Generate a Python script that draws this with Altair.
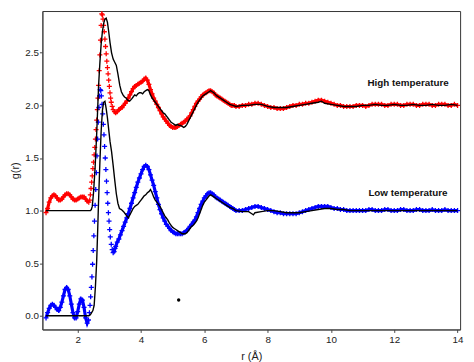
import altair as alt
import pandas as pd

# ---------------- data ----------------
# High temperature simulation (red +), shifted up by 1
high_sim_r = [1.00, 1.05, 1.10, 1.15, 1.20, 1.25, 1.30, 1.35, 1.40, 1.45, 1.50, 1.55, 1.60, 1.65,
              1.70, 1.75, 1.80, 1.85, 1.90, 1.95, 2.00, 2.05, 2.10, 2.15, 2.20, 2.25, 2.30, 2.35,
              2.38, 2.40, 2.42, 2.44, 2.46, 2.48, 2.50, 2.52, 2.54, 2.56, 2.58, 2.60, 2.62, 2.64,
              2.66, 2.68, 2.70, 2.72, 2.74, 2.76,
              2.78, 2.80, 2.82, 2.84, 2.86, 2.88, 2.90, 2.92, 2.94, 2.96, 2.98, 3.00, 3.02, 3.04,
              3.06, 3.09, 3.12, 3.16, 3.20, 3.25,
              3.30, 3.35, 3.40, 3.45, 3.50, 3.55, 3.60, 3.65, 3.70, 3.75, 3.80, 3.85, 3.90, 3.95,
              4.00, 4.05, 4.10, 4.15, 4.20, 4.25, 4.30, 4.35, 4.40, 4.45, 4.50, 4.55, 4.60, 4.65,
              4.70, 4.75, 4.80, 4.85, 4.90, 4.95, 5.00, 5.05, 5.10, 5.15, 5.20, 5.25, 5.30, 5.35,
              5.40, 5.45, 5.50, 5.55, 5.60, 5.65, 5.70, 5.75, 5.80, 5.85, 5.90, 5.95, 6.00, 6.05,
              6.10, 6.15, 6.20, 6.25, 6.30, 6.35, 6.40, 6.45, 6.50, 6.55, 6.60, 6.65, 6.70, 6.75,
              6.80, 6.85, 6.90, 6.95, 7.00,
              7.1, 7.2, 7.3, 7.4, 7.5, 7.6, 7.7, 7.8, 7.9, 8.0, 8.1, 8.2, 8.3, 8.4, 8.5, 8.6, 8.7,
              8.8, 8.9, 9.0, 9.1, 9.2, 9.3, 9.4, 9.5, 9.6, 9.7, 9.8, 9.9, 10.0, 10.1, 10.2, 10.3,
              10.4, 10.5, 10.6, 10.7, 10.8, 10.9, 11.0, 11.1, 11.2, 11.3, 11.4, 11.5, 11.6, 11.7,
              11.8, 11.9, 12.0, 12.1, 12.2, 12.3, 12.4, 12.5, 12.6, 12.7, 12.8, 12.9, 13.0, 13.1,
              13.2, 13.3, 13.4, 13.5, 13.6, 13.7, 13.8, 13.9, 14.0]
high_sim_g = [0.98, 1.02, 1.08, 1.12, 1.14, 1.15, 1.14, 1.12, 1.10, 1.10, 1.11, 1.13, 1.15, 1.16,
              1.16, 1.15, 1.13, 1.11, 1.10, 1.10, 1.11, 1.12, 1.13, 1.13, 1.13, 1.11, 1.09, 1.08,
              1.10, 1.15, 1.21, 1.27, 1.33, 1.40, 1.46, 1.53, 1.60, 1.68, 1.77, 1.86, 1.96, 2.07,
              2.19, 2.33, 2.48, 2.62, 2.76, 2.87,
              2.86, 2.82, 2.76, 2.70, 2.63, 2.56, 2.49, 2.42, 2.36, 2.30, 2.24, 2.18, 2.12, 2.07,
              2.03, 1.99, 1.96, 1.94, 1.93, 1.94,
              1.96, 1.97, 1.98, 2.00, 2.02, 2.04, 2.07, 2.10, 2.13, 2.16, 2.18, 2.19, 2.20, 2.21,
              2.22, 2.23, 2.25, 2.26, 2.24, 2.20, 2.15, 2.11, 2.07, 2.04, 2.01, 1.98, 1.95, 1.92,
              1.89, 1.87, 1.85, 1.83, 1.81, 1.80, 1.79, 1.79, 1.79, 1.80, 1.81, 1.82, 1.83, 1.84,
              1.85, 1.87, 1.88, 1.90, 1.93, 1.96, 1.99, 2.02, 2.04, 2.06, 2.08, 2.10, 2.11, 2.12,
              2.13, 2.14, 2.14, 2.13, 2.12, 2.10, 2.09, 2.08, 2.07, 2.06, 2.05, 2.04, 2.03, 2.02,
              2.01, 2.00, 2.00, 2.00, 1.99,
              1.99, 2.00, 2.00, 2.01, 2.01, 2.02, 2.02, 2.01, 2.00, 1.99, 1.98, 1.98, 1.97, 1.97,
              1.97, 1.98, 1.99, 2.00, 2.00, 2.01, 2.01, 2.02, 2.02, 2.03, 2.04, 2.05, 2.05, 2.04,
              2.03, 2.02, 2.01, 2.00, 2.00, 1.99, 1.99, 1.99, 1.99, 2.00, 2.00, 2.00, 1.99, 2.00,
              2.01, 2.01, 2.01, 2.01, 2.00, 2.00, 2.01, 2.01, 2.01, 2.00, 2.00, 2.01, 2.01, 2.01,
              2.00, 2.00, 2.01, 2.01, 2.01, 2.00, 2.00, 2.01, 2.01, 2.01, 2.00, 2.00, 2.01, 2.00]

# High temperature experiment (black line), shifted up by 1
high_exp_r = [1.00, 2.35, 2.40, 2.43, 2.46, 2.50, 2.55, 2.60, 2.63, 2.66, 2.70, 2.74, 2.78, 2.82,
              2.86, 2.90, 2.94, 2.98, 3.02, 3.07, 3.12, 3.17, 3.22, 3.27, 3.33, 3.38, 3.43, 3.48,
              3.53, 3.58, 3.64, 3.70, 3.75, 3.80, 3.85, 3.90, 3.95, 4.00, 4.05, 4.10, 4.15, 4.20,
              4.25, 4.30, 4.35, 4.40, 4.45, 4.50, 4.55, 4.60, 4.65, 4.70, 4.75, 4.80, 4.85, 4.90,
              4.95, 5.00, 5.05, 5.10, 5.15, 5.20, 5.25, 5.30, 5.35, 5.40, 5.45, 5.50, 5.55, 5.60,
              5.65, 5.70, 5.75, 5.80, 5.85, 5.90, 5.95, 6.00, 6.05, 6.10, 6.15, 6.20, 6.25, 6.30,
              6.40, 6.50, 6.60, 6.70, 6.80, 6.90, 7.00, 7.2, 7.4, 7.6, 7.8, 8.0, 8.2, 8.4, 8.6,
              8.8, 9.0, 9.2, 9.4, 9.6, 9.7, 9.8, 10.0, 10.2, 10.4, 10.6, 10.8, 11.0, 11.2, 11.4,
              11.6, 11.8, 12.0, 12.2, 12.4, 12.6, 12.8, 13.0, 13.2, 13.4, 13.6, 13.8, 14.0]
high_exp_g = [1.00, 1.00, 1.00, 1.01, 1.04, 1.17, 1.41, 1.73, 1.96, 2.19, 2.40, 2.58, 2.70, 2.78,
              2.82, 2.83, 2.79, 2.70, 2.60, 2.50, 2.44, 2.41, 2.38, 2.30, 2.19, 2.13, 2.10, 2.08,
              2.07, 2.05, 2.04, 2.06, 2.08, 2.10, 2.09, 2.11, 2.12, 2.12, 2.11, 2.13, 2.14, 2.15,
              2.14, 2.10, 2.07, 2.05, 2.03, 2.01, 1.99, 1.97, 1.95, 1.93, 1.92, 1.90, 1.88, 1.86,
              1.84, 1.83, 1.82, 1.81, 1.82, 1.81, 1.81, 1.80, 1.79, 1.80, 1.82, 1.85, 1.88, 1.91,
              1.94, 1.97, 2.00, 2.03, 2.05, 2.07, 2.09, 2.10, 2.11, 2.12, 2.13, 2.14, 2.13, 2.12,
              2.09, 2.07, 2.05, 2.03, 2.01, 2.00, 1.99, 2.00, 2.00, 2.01, 2.01, 1.99, 1.98, 1.98,
              1.98, 1.99, 2.00, 2.01, 2.02, 2.03, 2.04, 2.02, 2.01, 2.00, 1.99, 1.99, 1.99, 2.00,
              2.00, 2.01, 2.00, 2.00, 2.01, 2.00, 2.00, 2.01, 2.00, 2.00, 2.01, 2.00, 2.00, 2.01,
              2.00]

# Low temperature simulation (blue +)
low_sim_r = [1.00, 1.05, 1.10, 1.15, 1.20, 1.25, 1.30, 1.35, 1.40, 1.45, 1.50, 1.55, 1.60, 1.65,
             1.70, 1.75, 1.80, 1.85, 1.90, 1.95, 2.00, 2.05, 2.10, 2.15, 2.20, 2.25, 2.30, 2.34,
             2.37, 2.39, 2.41, 2.43, 2.45, 2.47, 2.49, 2.51, 2.53, 2.55, 2.57, 2.59, 2.61, 2.63,
             2.65, 2.67, 2.69, 2.71, 2.73,
             2.75, 2.77, 2.79, 2.81, 2.83, 2.85, 2.87, 2.89, 2.91, 2.93, 2.95, 2.97, 2.99, 3.01,
             3.03, 3.06, 3.09, 3.12, 3.15, 3.18,
             3.20, 3.25, 3.30, 3.35, 3.40, 3.45, 3.50, 3.55, 3.60, 3.65, 3.70, 3.75, 3.80, 3.85,
             3.90, 3.95, 4.00, 4.05, 4.10, 4.15, 4.20, 4.25, 4.30, 4.35, 4.40, 4.45, 4.50, 4.55,
             4.60, 4.65, 4.70, 4.75, 4.80, 4.85, 4.90, 4.95, 5.00, 5.05, 5.10, 5.15, 5.20, 5.25,
             5.30, 5.35, 5.40, 5.45, 5.50, 5.55, 5.60, 5.65, 5.70, 5.75, 5.80, 5.85, 5.90, 5.95,
             6.00, 6.05, 6.10, 6.15, 6.20, 6.25, 6.30, 6.35, 6.40, 6.45, 6.50, 6.55, 6.60, 6.65,
             6.70, 6.75, 6.80, 6.85, 6.90, 6.95, 7.00,
             7.1, 7.2, 7.3, 7.4, 7.5, 7.6, 7.7, 7.8, 7.9, 8.0, 8.1, 8.2, 8.3, 8.4, 8.5, 8.6, 8.7,
             8.8, 8.9, 9.0, 9.1, 9.2, 9.3, 9.4, 9.5, 9.6, 9.7, 9.8, 9.9, 10.0, 10.1, 10.2, 10.3,
             10.4, 10.5, 10.6, 10.7, 10.8, 10.9, 11.0, 11.1, 11.2, 11.3, 11.4, 11.5, 11.6, 11.7,
             11.8, 11.9, 12.0, 12.1, 12.2, 12.3, 12.4, 12.5, 12.6, 12.7, 12.8, 12.9, 13.0, 13.1,
             13.2, 13.3, 13.4, 13.5, 13.6, 13.7, 13.8, 13.9, 14.0]
low_sim_g = [-0.02, 0.03, 0.07, 0.10, 0.11, 0.10, 0.08, 0.06, 0.05, 0.08, 0.13, 0.19, 0.25, 0.27,
             0.25, 0.19, 0.11, 0.03, -0.02, -0.02, 0.04, 0.11, 0.16, 0.15, 0.08, -0.02, -0.07, -0.04,
             0.03, 0.10, 0.18, 0.27, 0.37, 0.49, 0.62, 0.76, 0.90, 1.05, 1.20, 1.36, 1.52, 1.68,
             1.84, 1.98, 2.09, 2.15, 2.14,
             2.09, 2.01, 1.92, 1.82, 1.72, 1.61, 1.50, 1.39, 1.28, 1.17, 1.07, 0.98, 0.90, 0.82,
             0.75, 0.68, 0.63, 0.60, 0.61, 0.64,
             0.66, 0.70, 0.73, 0.77, 0.81, 0.85, 0.89, 0.93, 0.97, 1.02, 1.07, 1.12, 1.17, 1.22,
             1.27, 1.31, 1.35, 1.39, 1.42, 1.43, 1.42, 1.39, 1.34, 1.29, 1.24, 1.18, 1.12, 1.06,
             1.01, 0.97, 0.93, 0.90, 0.87, 0.85, 0.83, 0.81, 0.80, 0.79, 0.78, 0.78, 0.78, 0.78,
             0.78, 0.79, 0.80, 0.81, 0.83, 0.85, 0.87, 0.89, 0.91, 0.94, 0.98, 1.02, 1.06, 1.09,
             1.12, 1.14, 1.16, 1.17, 1.17, 1.16, 1.15, 1.13, 1.12, 1.11, 1.10, 1.09, 1.08, 1.07,
             1.06, 1.05, 1.04, 1.03, 1.02, 1.01, 1.00,
             1.00, 1.00, 1.01, 1.02, 1.03, 1.04, 1.04, 1.03, 1.02, 1.01, 1.00, 0.99, 0.98, 0.98,
             0.97, 0.97, 0.97, 0.97, 0.97, 0.98, 0.99, 1.00, 1.01, 1.02, 1.03, 1.04, 1.04, 1.04,
             1.04, 1.03, 1.02, 1.02, 1.01, 1.01, 1.00, 1.00, 1.00, 1.00, 1.00, 1.00, 1.00, 1.01,
             1.01, 1.00, 1.00, 1.00, 1.01, 1.01, 1.00, 1.00, 1.00, 1.01, 1.01, 1.00, 1.00, 1.00,
             1.01, 1.01, 1.00, 1.00, 1.00, 1.01, 1.00, 1.00, 1.00, 1.01, 1.00, 1.00, 1.00, 1.00]

# Low temperature experiment (black line)
low_exp_r = [1.00, 2.35, 2.40, 2.44, 2.48, 2.52, 2.56, 2.60, 2.63, 2.66, 2.70, 2.74, 2.78, 2.82,
             2.86, 2.90, 2.94, 2.98, 3.02, 3.07, 3.12, 3.17, 3.22, 3.27, 3.32, 3.38, 3.45, 3.50,
             3.55, 3.60, 3.65, 3.70, 3.75, 3.80, 3.85, 3.90, 3.95, 4.00, 4.05, 4.10, 4.15, 4.20,
             4.25, 4.30, 4.35, 4.40, 4.45, 4.50, 4.55, 4.60, 4.65, 4.70, 4.75, 4.80, 4.85, 4.90,
             4.95, 5.00, 5.05, 5.10, 5.15, 5.20, 5.25, 5.30, 5.35, 5.40, 5.45, 5.50, 5.55, 5.60,
             5.65, 5.70, 5.75, 5.80, 5.85, 5.90, 5.95, 6.00, 6.05, 6.10, 6.15, 6.20, 6.25, 6.30,
             6.40, 6.50, 6.60, 6.70, 6.80, 6.90, 7.00, 7.2, 7.4, 7.5, 7.55, 7.6, 7.8, 8.0, 8.2,
             8.4, 8.6, 8.8, 9.0, 9.2, 9.4, 9.6, 9.8, 10.0, 10.2, 10.4, 10.6, 10.8, 11.0, 11.2,
             11.4, 11.6, 11.8, 12.0, 12.2, 12.4, 12.6, 12.8, 13.0, 13.2, 13.4, 13.6, 13.8, 14.0]
low_exp_g = [0.00, 0.00, 0.01, 0.03, 0.05, 0.10, 0.28, 0.52, 0.80, 1.10, 1.45, 1.75, 1.95, 2.03,
             2.04, 1.97, 1.88, 1.77, 1.66, 1.56, 1.43, 1.29, 1.16, 1.07, 1.02, 1.01, 0.99, 0.97,
             0.95, 0.93, 0.96, 0.99, 1.02, 1.04, 1.05, 1.06, 1.08, 1.10, 1.12, 1.14, 1.15, 1.17,
             1.18, 1.20, 1.17, 1.13, 1.10, 1.08, 1.06, 1.04, 1.01, 0.98, 0.95, 0.93, 0.91, 0.88,
             0.86, 0.84, 0.83, 0.82, 0.81, 0.80, 0.79, 0.78, 0.78, 0.78, 0.79, 0.81, 0.83, 0.85,
             0.86, 0.88, 0.90, 0.93, 0.97, 1.01, 1.05, 1.08, 1.10, 1.12, 1.14, 1.15, 1.14, 1.13,
             1.11, 1.09, 1.07, 1.05, 1.03, 1.02, 1.00, 0.99, 0.99, 0.97, 0.96, 0.98, 0.99, 1.00,
             1.00, 0.99, 0.98, 0.98, 0.98, 0.99, 1.00, 1.01, 1.02, 1.02, 1.01, 1.01, 1.00, 1.00,
             1.00, 1.00, 1.00, 1.00, 1.00, 1.00, 1.00, 1.00, 1.00, 1.00, 1.00, 1.00, 1.00, 1.00,
             1.00, 1.00]

stray_dot_r = [5.19]
stray_dot_g = [0.15]

label_text = ["High temperature", "Low temperature"]
label_r = [13.72, 13.68]
label_g = [2.215, 1.168]

x_ticks = [2, 4, 6, 8, 10, 12, 14]
y_ticks = [0.0, 0.5, 1.0, 1.5, 2.0, 2.5]

# ---------------- chart ----------------
sim = pd.concat([
    pd.DataFrame({"r": high_sim_r, "g": high_sim_g, "s": "high"}),
    pd.DataFrame({"r": low_sim_r, "g": low_sim_g, "s": "low"}),
], ignore_index=True)
# where the markers are packed tightly they merge into a continuous band
sim["seg"] = sim["s"] + sim["r"].apply(lambda v: "a" if v < 2.37 else ("b" if v > 3.14 else "-"))
band = sim[~sim["seg"].str.endswith("-")]

exp = pd.concat([
    pd.DataFrame({"r": high_exp_r, "g": high_exp_g, "s": "high"}),
    pd.DataFrame({"r": low_exp_r, "g": low_exp_g, "s": "low"}),
], ignore_index=True)
dot = pd.DataFrame({"r": stray_dot_r, "g": stray_dot_g})
labels = pd.DataFrame({"r": label_r, "g": label_g, "t": label_text})

FONT = "Liberation Sans"
xs = alt.Scale(domain=[0.885, 14.08], nice=False, zero=False)
ys = alt.Scale(domain=[-0.13, 2.897], nice=False, zero=False)

x_enc = alt.X("r:Q", scale=xs, axis=alt.Axis(
    values=x_ticks, format="d", title="r (Å)", grid=False, tickSize=3,
    labelPadding=2, titlePadding=7, titleFontWeight="normal", titleFontSize=11,
    labelFontSize=10, labelFont=FONT, titleFont=FONT, labelColor="#222",
    titleColor="#222", domainColor="#444", tickColor="#444"))
y_enc = alt.Y("g:Q", scale=ys, axis=alt.Axis(
    values=y_ticks, format=".1f", title="g(r)", grid=False, tickSize=3,
    labelPadding=1, titlePadding=4, titleFontWeight="normal", titleFontSize=11,
    labelFontSize=10, labelFont=FONT, titleFont=FONT, labelColor="#222",
    titleColor="#222", domainColor="#444", tickColor="#444"))

cscale = alt.Scale(domain=["high", "low"], range=["#ff0000", "#0000ff"])

band_layer = alt.Chart(band).mark_line(strokeWidth=3.2, opacity=1).encode(
    x=x_enc, y=y_enc,
    color=alt.Color("s:N", scale=cscale, legend=None),
    detail="seg:N", order=alt.Order("r:Q"),
)
plus = "M-1,0H1M0,-1V1"
markers = alt.Chart(sim).mark_point(shape=plus, filled=False, size=26, strokeWidth=1.3, opacity=1).encode(
    x=x_enc, y=y_enc,
    color=alt.Color("s:N", scale=cscale, legend=None),
)
lines = alt.Chart(exp).mark_line(color="black", strokeWidth=1.4).encode(
    x=x_enc, y=y_enc, detail="s:N", order=alt.Order("r:Q"),
)
dot_layer = alt.Chart(dot).mark_circle(color="black", size=12, opacity=1).encode(x=x_enc, y=y_enc)
text_layer = alt.Chart(labels).mark_text(align="right", baseline="middle", font=FONT,
                                         fontSize=10, fontWeight="bold", color="#111").encode(
    x=x_enc, y=y_enc, text="t:N")

chart = alt.layer(band_layer, markers, lines, dot_layer, text_layer).properties(
    width=425, height=324,
    autosize=alt.AutoSizeParams(type="none"),
    padding={"left": 35, "top": 0, "right": 6, "bottom": 30},
).configure_view(stroke="#333", strokeWidth=1)

chart.save("out.html", embed_options={"renderer": "svg", "actions": False})
